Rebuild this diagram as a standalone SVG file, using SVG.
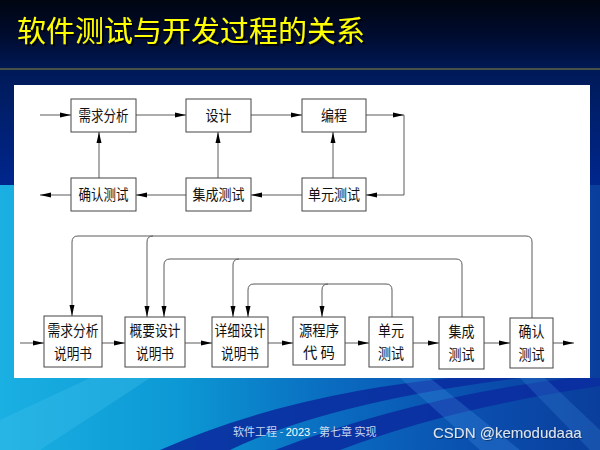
<svg xmlns="http://www.w3.org/2000/svg" width="600" height="450" viewBox="0 0 600 450">
<defs>
<linearGradient id="bgTop" x1="0" y1="0" x2="0" y2="1">
<stop offset="0" stop-color="#000510"/>
<stop offset="0.08" stop-color="#000c30"/>
<stop offset="0.16" stop-color="#001a58"/>
<stop offset="0.4" stop-color="#00268c"/>
<stop offset="1" stop-color="#0840a4"/>
</linearGradient>
<linearGradient id="bgLow" x1="0" y1="0" x2="1" y2="0">
<stop offset="0" stop-color="#1ab0e2"/>
<stop offset="0.3" stop-color="#0c98d4"/>
<stop offset="0.55" stop-color="#0a6cc0"/>
<stop offset="0.8" stop-color="#0a4eae"/>
<stop offset="1" stop-color="#0a3e9c"/>
</linearGradient>
<filter id="shadow" x="-5%" y="-20%" width="110%" height="150%">
<feDropShadow dx="2" dy="2" stdDeviation="0.6" flood-color="#000" flood-opacity="0.8"/>
</filter>
<filter id="shadow2" x="-5%" y="-20%" width="110%" height="150%">
<feDropShadow dx="1" dy="1" stdDeviation="0.5" flood-color="#000" flood-opacity="0.4"/>
</filter>
<marker id="ah" markerUnits="userSpaceOnUse" markerWidth="12" markerHeight="6" refX="11" refY="3" orient="auto">
<path d="M0,0.5 L11,3 L0,5.5 z" fill="#000"/>
</marker>
<style>
.box{fill:#fff;stroke:#444;stroke-width:1}
.lbl{font-family:"Noto Sans CJK SC","Liberation Serif",serif;font-size:15px;fill:#111;text-anchor:middle}
.con{fill:none;stroke:#5a5a5a;stroke-width:1}
.arr{marker-end:url(#ah)}
</style>
</defs>
<g id="bg">
<rect x="0" y="0" width="600" height="450" fill="url(#bgTop)"/>
<rect x="0" y="185" width="600" height="265" fill="url(#bgLow)"/>
<path d="M0 420 L90 378 L150 378 L40 450 L0 450 Z" fill="#3ec0ea" opacity="0.35"/>
<path d="M160 450 Q290 392 470 376 L520 378 Q330 402 230 450 Z" fill="#0a2ea0" opacity="0.9"/>
<path d="M275 450 Q410 398 570 378 L600 378 L600 386 Q450 408 340 450 Z" fill="#0a2ea0" opacity="0.9"/>
<path d="M400 378 L430 378 L520 450 L480 450 Z" fill="#4090e0" opacity="0.3"/>
<path d="M520 378 L545 378 L600 430 L600 450 L590 450 Z" fill="#4090e0" opacity="0.25"/>
<rect x="0" y="68.5" width="600" height="1" fill="#8c8a3c"/>
</g>
<g id="title">
<text x="17" y="42" font-family="Noto Sans CJK SC, sans-serif" font-size="29" fill="#ffff00" filter="url(#shadow)">软件测试与开发过程的关系</text>
</g>
<g id="panel">
<rect x="14" y="85" width="576" height="293" fill="#fff"/>
</g>
<g id="connectors">
<path class="con arr" d="M40 115 L71 115"/>
<path class="con arr" d="M136 115 L186 115"/>
<path class="con arr" d="M251 115 L302 115"/>
<path class="con arr" d="M366 115 L404 115"/>
<path class="con arr" d="M404 115 L404 195 L366 195"/>
<path class="con arr" d="M302 195 L251 195"/>
<path class="con arr" d="M186 195 L136 195"/>
<path class="con arr" d="M71 195 L40 195"/>
<path class="con arr" d="M99 178 L99 132"/>
<path class="con arr" d="M218 178 L218 132"/>
<path class="con arr" d="M333 178 L333 132"/>
<path class="con arr" d="M20 343 L44 343"/>
<path class="con arr" d="M102 343 L125 343"/>
<path class="con arr" d="M185 343 L212 343"/>
<path class="con arr" d="M268 343 L293 343"/>
<path class="con arr" d="M345 343 L369 343"/>
<path class="con arr" d="M413 343 L439 343"/>
<path class="con arr" d="M484 343 L510 343"/>
<path class="con arr" d="M553 343 L574 343"/>
<path class="con arr" d="M532 318 L532 242 Q532 236 526 236 L78 236 Q72 236 72 242 L72 316"/>
<path class="con arr" d="M153 236 Q147 236 147 242 L147 317"/>
<path class="con arr" d="M462 317 L462 265 Q462 259 456 259 L170 259 Q164 259 164 265 L164 317"/>
<path class="con arr" d="M239 259 Q233 259 233 265 L233 317"/>
<path class="con arr" d="M392 317 L392 290 Q392 284 386 284 L254 284 Q248 284 248 290 L248 317"/>
<path class="con arr" d="M328 284 Q322 284 322 290 L322 317"/>
</g>
<g id="n-xqfx"><rect class="box" x="71" y="99" width="65" height="33"/><text class="lbl" x="103.5" y="121" textLength="50" lengthAdjust="spacingAndGlyphs">需求分析</text></g>
<g id="n-sj"><rect class="box" x="186" y="99" width="65" height="33"/><text class="lbl" x="218.5" y="121" textLength="26" lengthAdjust="spacingAndGlyphs">设计</text></g>
<g id="n-bc"><rect class="box" x="302" y="99" width="64" height="33"/><text class="lbl" x="334" y="121" textLength="26" lengthAdjust="spacingAndGlyphs">编程</text></g>
<g id="n-qrcs"><rect class="box" x="71" y="178" width="65" height="33"/><text class="lbl" x="103.5" y="200" textLength="50" lengthAdjust="spacingAndGlyphs">确认测试</text></g>
<g id="n-jccs"><rect class="box" x="186" y="178" width="65" height="33"/><text class="lbl" x="218.5" y="200" textLength="52" lengthAdjust="spacingAndGlyphs">集成测试</text></g>
<g id="n-dycs"><rect class="box" x="302" y="178" width="64" height="33"/><text class="lbl" x="334" y="200" textLength="52" lengthAdjust="spacingAndGlyphs">单元测试</text></g>
<g id="n-b1"><rect class="box" x="44" y="316" width="58" height="51"/><text class="lbl" x="73" y="336" textLength="51" lengthAdjust="spacingAndGlyphs">需求分析</text><text class="lbl" x="73" y="359" textLength="38" lengthAdjust="spacingAndGlyphs">说明书</text></g>
<g id="n-b2"><rect class="box" x="125" y="317" width="60" height="50"/><text class="lbl" x="155" y="336" textLength="51" lengthAdjust="spacingAndGlyphs">概要设计</text><text class="lbl" x="155" y="359" textLength="38" lengthAdjust="spacingAndGlyphs">说明书</text></g>
<g id="n-b3"><rect class="box" x="212" y="317" width="56" height="50"/><text class="lbl" x="240" y="336" textLength="51" lengthAdjust="spacingAndGlyphs">详细设计</text><text class="lbl" x="240" y="359" textLength="38" lengthAdjust="spacingAndGlyphs">说明书</text></g>
<g id="n-b4"><rect class="box" x="293" y="317" width="52" height="48"/><text class="lbl" x="319" y="336" textLength="40" lengthAdjust="spacingAndGlyphs">源程序</text><text class="lbl" x="319" y="358" textLength="32" lengthAdjust="spacingAndGlyphs">代 码</text></g>
<g id="n-b5"><rect class="box" x="369" y="317" width="44" height="50"/><text class="lbl" x="391" y="336" textLength="26" lengthAdjust="spacingAndGlyphs">单元</text><text class="lbl" x="391" y="359" textLength="26" lengthAdjust="spacingAndGlyphs">测试</text></g>
<g id="n-b6"><rect class="box" x="439" y="317" width="45" height="52"/><text class="lbl" x="461.5" y="337" textLength="26" lengthAdjust="spacingAndGlyphs">集成</text><text class="lbl" x="461.5" y="360" textLength="26" lengthAdjust="spacingAndGlyphs">测试</text></g>
<g id="n-b7"><rect class="box" x="510" y="318" width="43" height="50"/><text class="lbl" x="531.5" y="337" textLength="26" lengthAdjust="spacingAndGlyphs">确认</text><text class="lbl" x="531.5" y="360" textLength="26" lengthAdjust="spacingAndGlyphs">测试</text></g>
<g id="footer">
<text x="233" y="436" font-family="Noto Sans CJK SC, sans-serif" font-size="11" fill="#c8d8f0">软件工程 - <tspan font-family="Liberation Sans, sans-serif" fill="#ffffff">2023</tspan> - 第七章 实现</text>
<text x="433" y="438" font-family="Liberation Sans, sans-serif" font-size="15" fill="#dde4ee" filter="url(#shadow2)">CSDN @kemodudaaa</text>
</g>
</svg>
